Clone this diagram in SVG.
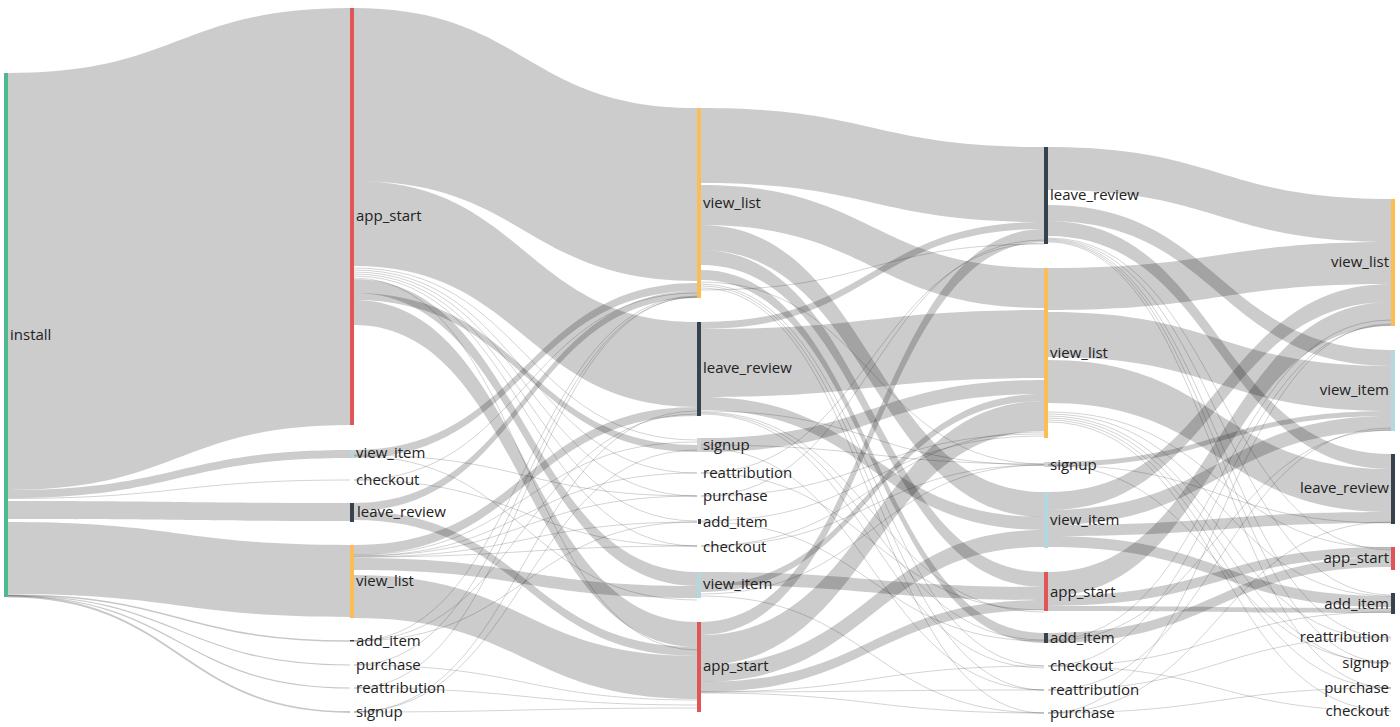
<svg xmlns="http://www.w3.org/2000/svg" width="1400" height="727" viewBox="0 0 1400 727">
<style>
.lk{fill:#000;fill-opacity:0.2}
.th{fill:none;stroke:#000;stroke-opacity:0.22;stroke-width:0.8}
.lb{font-family:"Open Sans","Liberation Sans",sans-serif;font-size:15px;fill:#222}
.r{text-anchor:end}
.g{fill:#4fb98e}.rd{fill:#e05555}.or{fill:#fbbd55}.dk{fill:#37424f}.lb2{fill:#b5d8e0}.gr{fill:#d2d2d2}
</style>
<rect width="1400" height="727" fill="#fff"/>
<g id="connectors">
<path class="lk" d="M8 73C179 73 179 8 350 8L350 425C179 425 179 490 8 490Z"/>
<path class="lk" d="M8 490C179 490 179 450 350 450L350 458C179 458 179 498 8 498Z"/>
<path class="th" d="M8 498.5C179 498.5 179 480 350 480"/>
<path class="lk" d="M8 501C179 501 179 503 350 503L350 521C179 521 179 519 8 519Z"/>
<path class="lk" d="M8 522C179 522 179 545 350 545L350 617C179 617 179 594 8 594Z"/>
<path class="th" style="stroke-width:1.5" d="M8 595C179 595 179 641 350 641"/>
<path class="th" style="stroke-width:1.2" d="M8 595.5C179 595.5 179 665 350 665"/>
<path class="th" style="stroke-width:1.2" d="M8 596C179 596 179 688 350 688"/>
<path class="th" style="stroke-width:1.8" d="M8 596.5C179 596.5 179 712 350 712"/>

<path class="lk" d="M354 8C525 8 525 108 697 108L697 281C525 281 525 181 354 181Z"/>
<path class="lk" d="M354 181C525 181 525 322 697 322L697 407C525 407 525 266 354 266Z"/>
<path class="lk" d="M354 279C525 279 525 572 697 572L697 586C525 586 525 293 354 293Z"/>
<path class="lk" d="M354 293C525 293 525 445 697 445L697 452C525 452 525 300 354 300Z"/>
<path class="lk" d="M354 300C525 300 525 622 697 622L697 647C525 647 525 325 354 325Z"/>
<path class="th" d="M354 268C525 268 525 440 697 440"/>
<path class="th" d="M354 270C525 270 525 473 697 473"/>
<path class="th" d="M354 272C525 272 525 496 697 496"/>
<path class="th" d="M354 274C525 274 525 521 697 521"/>
<path class="th" d="M354 276C525 276 525 546 697 546"/>
<path class="th" d="M354 278C525 278 525 650 697 650"/>
<path class="lk" d="M354 450C525 450 525 283 697 283L697 291C525 291 525 458 354 458Z"/>
<path class="th" d="M354 480C525 480 525 293 697 293"/>
<path class="th" d="M354 480C525 480 525 546 697 546"/>
<path class="th" d="M354 455C525 455 525 496 697 496"/>
<path class="th" d="M354 456C525 456 525 600 697 600"/>
<path class="lk" d="M354 503C525 503 525 291 697 291L697 298C525 298 525 511 354 511Z"/>
<path class="lk" d="M354 511C525 511 525 647 697 647L697 656C525 656 525 520 354 520Z"/>
<path class="lk" d="M354 545C525 545 525 407 697 407L697 416C525 416 525 555 354 555Z"/>
<path class="lk" d="M354 558C525 558 525 586 697 586L697 598C525 598 525 570 354 570Z"/>
<path class="lk" d="M354 575C525 575 525 656 697 656L697 699C525 699 525 618 354 618Z"/>
<path class="th" d="M354 555C525 555 525 442 697 442"/>
<path class="th" d="M354 556C525 556 525 473 697 473"/>
<path class="th" d="M354 556C525 556 525 496 697 496"/>
<path class="th" d="M354 557C525 557 525 522 697 522"/>
<path class="th" d="M354 557C525 557 525 546 697 546"/>
<path class="th" d="M354 641C525 641 525 296 697 296"/>
<path class="th" d="M354 641C525 641 525 414 697 414"/>
<path class="th" d="M354 641C525 641 525 522 697 522"/>
<path class="th" d="M354 665C525 665 525 700 697 700"/>
<path class="th" d="M354 665C525 665 525 297 697 297"/>
<path class="th" d="M354 688C525 688 525 297 697 297"/>
<path class="th" d="M354 688C525 688 525 705 697 705"/>
<path class="th" d="M354 712C525 712 525 708 697 708"/>
<path class="th" d="M354 712C525 712 525 411 697 411"/>
<path class="th" d="M354 712C525 712 525 450 697 450"/>

<path class="lk" d="M701 108C872 108 872 147 1044 147L1044 222C872 222 872 183 701 183Z"/>
<path class="lk" d="M701 185C872 185 872 268 1044 268L1044 308C872 308 872 225 701 225Z"/>
<path class="lk" d="M701 225C872 225 872 492 1044 492L1044 517C872 517 872 250 701 250Z"/>
<path class="lk" d="M701 250C872 250 872 572 1044 572L1044 587C872 587 872 265 701 265Z"/>
<path class="lk" d="M701 270C872 270 872 633 1044 633L1044 643C872 643 872 280 701 280Z"/>
<path class="th" d="M701 282C872 282 872 464 1044 464"/>
<path class="th" d="M701 284C872 284 872 666 1044 666"/>
<path class="th" d="M701 286C872 286 872 690 1044 690"/>
<path class="th" d="M701 288C872 288 872 713 1044 713"/>
<path class="th" d="M701 290C872 290 872 244 1044 244"/>
<path class="lk" d="M701 322C872 322 872 222 1044 222L1044 229C872 229 872 329 701 329Z"/>
<path class="lk" d="M701 329C872 329 872 310 1044 310L1044 378C872 378 872 397 701 397Z"/>
<path class="lk" d="M701 397C872 397 872 517 1044 517L1044 530C872 530 872 410 701 410Z"/>
<path class="th" d="M701 411C872 411 872 465 1044 465"/>
<path class="th" d="M701 412C872 412 872 612 1044 612"/>
<path class="th" d="M701 413C872 413 872 640 1044 640"/>
<path class="th" d="M701 414C872 414 872 668 1044 668"/>
<path class="lk" d="M701 438C872 438 872 380 1044 380L1044 394C872 394 872 452 701 452Z"/>
<path class="th" d="M701 445C872 445 872 464 1044 464"/>
<path class="th" d="M701 448C872 448 872 690 1044 690"/>
<path class="lk" d="M701 572C872 572 872 587 1044 587L1044 600C872 600 872 585 701 585Z"/>
<path class="lk" d="M701 585C872 585 872 394 1044 394L1044 401C872 401 872 592 701 592Z"/>
<path class="th" d="M701 594C872 594 872 465 1044 465"/>
<path class="th" d="M701 596C872 596 872 713 1044 713"/>
<path class="lk" d="M701 622C872 622 872 229 1044 229L1044 242C872 242 872 635 701 635Z"/>
<path class="lk" d="M701 635C872 635 872 401 1044 401L1044 431C872 431 872 665 701 665Z"/>
<path class="lk" d="M701 665C872 665 872 530 1044 530L1044 547C872 547 872 682 701 682Z"/>
<path class="lk" d="M701 682C872 682 872 600 1044 600L1044 610C872 610 872 692 701 692Z"/>
<path class="th" d="M701 692C872 692 872 666 1044 666"/>
<path class="th" d="M701 692C872 692 872 690 1044 690"/>
<path class="th" d="M701 693C872 693 872 713 1044 713"/>
<path class="th" d="M701 521C872 521 872 436 1044 436"/>
<path class="th" d="M701 522C872 522 872 641 1044 641"/>
<path class="th" d="M701 546C872 546 872 432 1044 432"/>
<path class="th" d="M701 546C872 546 872 465 1044 465"/>
<path class="th" d="M701 496C872 496 872 434 1044 434"/>
<path class="th" d="M701 473C872 473 872 243 1044 243"/>
<path class="th" d="M701 473C872 473 872 610 1044 610"/>
<path class="th" d="M701 496C872 496 872 240 1044 240"/>

<path class="lk" d="M1048 147C1219 147 1219 199 1391 199L1391 242C1219 242 1219 190 1048 190Z"/>
<path class="lk" d="M1048 205C1219 205 1219 350 1391 350L1391 366C1219 366 1219 221 1048 221Z"/>
<path class="lk" d="M1048 221C1219 221 1219 454 1391 454L1391 469C1219 469 1219 236 1048 236Z"/>
<path class="th" d="M1048 238C1219 238 1219 550 1391 550"/>
<path class="th" d="M1048 239C1219 239 1219 595 1391 595"/>
<path class="th" d="M1048 240C1219 240 1219 638 1391 638"/>
<path class="th" d="M1048 241C1219 241 1219 663 1391 663"/>
<path class="th" d="M1048 242C1219 242 1219 688 1391 688"/>
<path class="lk" d="M1048 268C1219 268 1219 242 1391 242L1391 284C1219 284 1219 310 1048 310Z"/>
<path class="lk" d="M1048 312C1219 312 1219 366 1391 366L1391 411C1219 411 1219 357 1048 357Z"/>
<path class="lk" d="M1048 360C1219 360 1219 469 1391 469L1391 512C1219 512 1219 403 1048 403Z"/>
<path class="th" d="M1048 412C1219 412 1219 548 1391 548"/>
<path class="th" d="M1048 414C1219 414 1219 596 1391 596"/>
<path class="th" d="M1048 416C1219 416 1219 640 1391 640"/>
<path class="th" d="M1048 418C1219 418 1219 664 1391 664"/>
<path class="th" d="M1048 420C1219 420 1219 688 1391 688"/>
<path class="th" d="M1048 422C1219 422 1219 711 1391 711"/>
<path class="lk" d="M1048 462C1219 462 1219 411 1391 411L1391 416C1219 416 1219 467 1048 467Z"/>
<path class="th" d="M1048 465C1219 465 1219 523 1391 523"/>
<path class="th" d="M1048 465C1219 465 1219 663 1391 663"/>
<path class="lk" d="M1048 492C1219 492 1219 284 1391 284L1391 302C1219 302 1219 510 1048 510Z"/>
<path class="lk" d="M1048 510C1219 510 1219 416 1391 416L1391 431C1219 431 1219 525 1048 525Z"/>
<path class="lk" d="M1048 525C1219 525 1219 512 1391 512L1391 523C1219 523 1219 536 1048 536Z"/>
<path class="lk" d="M1048 536C1219 536 1219 596 1391 596L1391 607C1219 607 1219 547 1048 547Z"/>
<path class="lk" d="M1048 572C1219 572 1219 302 1391 302L1391 326C1219 326 1219 596 1048 596Z"/>
<path class="lk" d="M1048 596C1219 596 1219 547 1391 547L1391 557C1219 557 1219 606 1048 606Z"/>
<path class="lk" d="M1048 606C1219 606 1219 608 1391 608L1391 613C1219 613 1219 611 1048 611Z"/>
<path class="lk" d="M1048 633C1219 633 1219 557 1391 557L1391 567C1219 567 1219 643 1048 643Z"/>
<path class="th" d="M1048 640C1219 640 1219 320 1391 320"/>
<path class="th" d="M1048 641C1219 641 1219 430 1391 430"/>
<path class="th" d="M1048 666C1219 666 1219 612 1391 612"/>
<path class="th" d="M1048 666C1219 666 1219 711 1391 711"/>
<path class="th" d="M1048 666C1219 666 1219 325 1391 325"/>
<path class="th" d="M1048 690C1219 690 1219 637 1391 637"/>
<path class="th" d="M1048 690C1219 690 1219 428 1391 428"/>
<path class="th" d="M1048 713C1219 713 1219 688 1391 688"/>
<path class="th" d="M1048 713C1219 713 1219 522 1391 522"/>
<path class="th" d="M1048 713C1219 713 1219 324 1391 324"/>
</g>
<g id="n-install"><rect class="g" x="4" y="73" width="4" height="524"/><text class="lb" x="10" y="340">install</text></g>
<g id="n2-app_start"><rect class="rd" x="350" y="8" width="4" height="417"/><text class="lb" x="356" y="221">app_start</text></g>
<g id="n2-view_item"><rect class="lb2" x="350" y="450" width="4" height="8"/><text class="lb" x="356" y="458">view_item</text></g>
<g id="n2-checkout"><text class="lb" x="356" y="485">checkout</text></g>
<g id="n2-leave_review"><rect class="dk" x="350" y="503" width="4" height="19"/><text class="lb" x="357" y="517">leave_review</text></g>
<g id="n2-view_list"><rect class="or" x="350" y="545" width="4" height="73"/><text class="lb" x="356" y="586">view_list</text></g>
<g id="n2-add_item"><rect class="dk" x="350" y="640" width="4" height="1.5"/><text class="lb" x="356" y="646">add_item</text></g>
<g id="n2-purchase"><text class="lb" x="356" y="670">purchase</text></g>
<g id="n2-reattribution"><text class="lb" x="356" y="693">reattribution</text></g>
<g id="n2-signup"><text class="lb" x="356" y="717">signup</text></g>
<g id="n3-view_list"><rect class="or" x="697" y="108" width="4" height="190"/><text class="lb" x="703" y="208">view_list</text></g>
<g id="n3-leave_review"><rect class="dk" x="697" y="322" width="4" height="94"/><text class="lb" x="703" y="373">leave_review</text></g>
<g id="n3-signup"><rect class="gr" x="697" y="438" width="4" height="14"/><text class="lb" x="703" y="450">signup</text></g>
<g id="n3-reattribution"><text class="lb" x="703" y="478">reattribution</text></g>
<g id="n3-purchase"><text class="lb" x="703" y="501">purchase</text></g>
<g id="n3-add_item"><rect class="dk" x="698" y="519" width="3" height="5"/><text class="lb" x="703" y="527">add_item</text></g>
<g id="n3-checkout"><text class="lb" x="703" y="552">checkout</text></g>
<g id="n3-view_item"><rect class="lb2" x="697" y="572" width="4" height="26"/><text class="lb" x="703" y="589">view_item</text></g>
<g id="n3-app_start"><rect class="rd" x="697" y="622" width="4" height="90"/><text class="lb" x="703" y="671">app_start</text></g>
<g id="n4-leave_review"><rect class="dk" x="1044" y="147" width="4" height="97"/><text class="lb" x="1050" y="200">leave_review</text></g>
<g id="n4-view_list"><rect class="or" x="1044" y="268" width="4" height="170"/><text class="lb" x="1050" y="358">view_list</text></g>
<g id="n4-signup"><rect class="gr" x="1044" y="462" width="4" height="5"/><text class="lb" x="1050" y="470">signup</text></g>
<g id="n4-view_item"><rect class="lb2" x="1044" y="492" width="4" height="56"/><text class="lb" x="1050" y="525">view_item</text></g>
<g id="n4-app_start"><rect class="rd" x="1044" y="572" width="4" height="39"/><text class="lb" x="1050" y="597">app_start</text></g>
<g id="n4-add_item"><rect class="dk" x="1044" y="633" width="4" height="10"/><text class="lb" x="1050" y="643">add_item</text></g>
<g id="n4-checkout"><text class="lb" x="1050" y="671">checkout</text></g>
<g id="n4-reattribution"><text class="lb" x="1050" y="695">reattribution</text></g>
<g id="n4-purchase"><text class="lb" x="1050" y="718">purchase</text></g>
<g id="n5-view_list"><rect class="or" x="1391" y="199" width="4" height="127"/><text class="lb r" x="1389" y="267">view_list</text></g>
<g id="n5-view_item"><rect class="lb2" x="1391" y="350" width="4" height="81"/><text class="lb r" x="1389" y="395">view_item</text></g>
<g id="n5-leave_review"><rect class="dk" x="1391" y="454" width="4" height="70"/><text class="lb r" x="1389" y="493">leave_review</text></g>
<g id="n5-app_start"><rect class="rd" x="1391" y="547" width="4" height="23"/><text class="lb r" x="1389" y="563">app_start</text></g>
<g id="n5-add_item"><rect class="dk" x="1391" y="593" width="4" height="21"/><text class="lb r" x="1389" y="609">add_item</text></g>
<g id="n5-reattribution"><text class="lb r" x="1389" y="642">reattribution</text></g>
<g id="n5-signup"><text class="lb r" x="1389" y="668">signup</text></g>
<g id="n5-purchase"><text class="lb r" x="1389" y="693">purchase</text></g>
<g id="n5-checkout"><text class="lb r" x="1389" y="716">checkout</text></g>
</svg>
